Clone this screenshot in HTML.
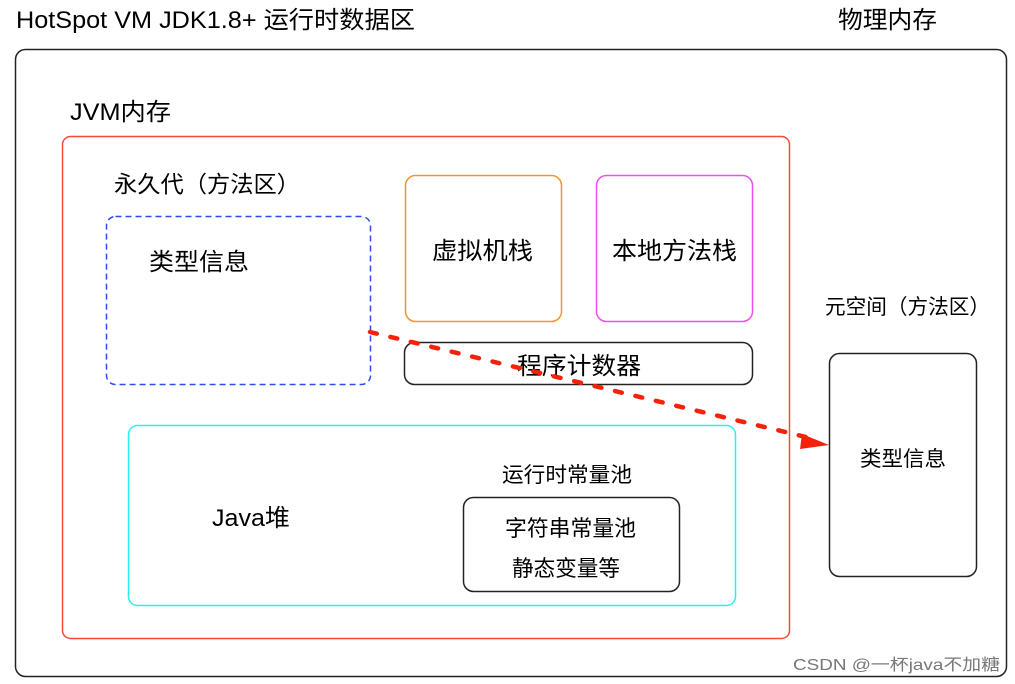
<!DOCTYPE html>
<html><head><meta charset="utf-8"><style>
html,body{margin:0;padding:0;background:#fff;width:1015px;height:684px;overflow:hidden}
text{font-family:"Liberation Sans","Noto Sans CJK SC",sans-serif;fill:#000}
</style></head><body>
<svg width="1015" height="684" viewBox="0 0 1015 684" xmlns="http://www.w3.org/2000/svg">
<text x="16" y="28" font-size="24" textLength="399" lengthAdjust="spacingAndGlyphs">HotSpot VM JDK1.8+ 运行时数据区</text>
<text x="838" y="28" font-size="24" textLength="99" lengthAdjust="spacingAndGlyphs">物理内存</text>
<rect x="15.5" y="49.5" width="991" height="627" rx="10" fill="none" stroke="#222" stroke-width="1.5"/>
<text x="70" y="120" font-size="24" textLength="101" lengthAdjust="spacingAndGlyphs">JVM内存</text>
<rect x="62.5" y="136.5" width="727" height="502" rx="8" fill="none" stroke="#f54a3a" stroke-width="1.5"/>
<text x="114" y="192" font-size="23" textLength="186" lengthAdjust="spacingAndGlyphs">永久代（方法区）</text>
<rect x="106.5" y="216.5" width="264" height="168" rx="9" fill="none" stroke="#2a4ef0" stroke-width="1.5" stroke-dasharray="6,4"/>
<text x="149" y="270" font-size="24" textLength="100" lengthAdjust="spacingAndGlyphs">类型信息</text>
<rect x="405.5" y="175.5" width="156" height="146" rx="10" fill="none" stroke="#f5922a" stroke-width="1.5"/>
<text x="432" y="259" font-size="24" textLength="101" lengthAdjust="spacingAndGlyphs">虚拟机栈</text>
<rect x="596.5" y="175.5" width="156" height="146" rx="10" fill="none" stroke="#f04ef0" stroke-width="1.5"/>
<text x="612" y="259" font-size="24" textLength="125" lengthAdjust="spacingAndGlyphs">本地方法栈</text>
<rect x="404.5" y="342.5" width="348" height="42" rx="10" fill="none" stroke="#222" stroke-width="1.5"/>
<text x="517" y="374" font-size="24" textLength="124" lengthAdjust="spacingAndGlyphs">程序计数器</text>
<rect x="128.5" y="425.5" width="607" height="180" rx="9" fill="none" stroke="#2af0f0" stroke-width="1.5"/>
<text x="212" y="526" font-size="24" textLength="78" lengthAdjust="spacingAndGlyphs">Java堆</text>
<text x="502" y="482" font-size="21" textLength="130" lengthAdjust="spacingAndGlyphs">运行时常量池</text>
<rect x="463.5" y="497.5" width="216" height="94" rx="10" fill="none" stroke="#222" stroke-width="1.5"/>
<text x="505" y="536" font-size="22" textLength="131" lengthAdjust="spacingAndGlyphs">字符串常量池</text>
<text x="512" y="576" font-size="22" textLength="108" lengthAdjust="spacingAndGlyphs">静态变量等</text>
<text x="825" y="314" font-size="21" textLength="165" lengthAdjust="spacingAndGlyphs">元空间（方法区）</text>
<rect x="829.5" y="353.5" width="147" height="223" rx="10" fill="none" stroke="#222" stroke-width="1.5"/>
<text x="860" y="466" font-size="21" textLength="86" lengthAdjust="spacingAndGlyphs">类型信息</text>
<line x1="370" y1="332" x2="806" y2="437" stroke="#f5220a" stroke-width="4.5" stroke-dasharray="7,14" stroke-linecap="round"/>
<polygon points="829,445 802,434 800,449" fill="#f5220a"/>
<text x="793" y="670" font-size="16" textLength="207" lengthAdjust="spacingAndGlyphs" style="fill:#777">CSDN @一杯java不加糖</text>
</svg>
</body></html>
